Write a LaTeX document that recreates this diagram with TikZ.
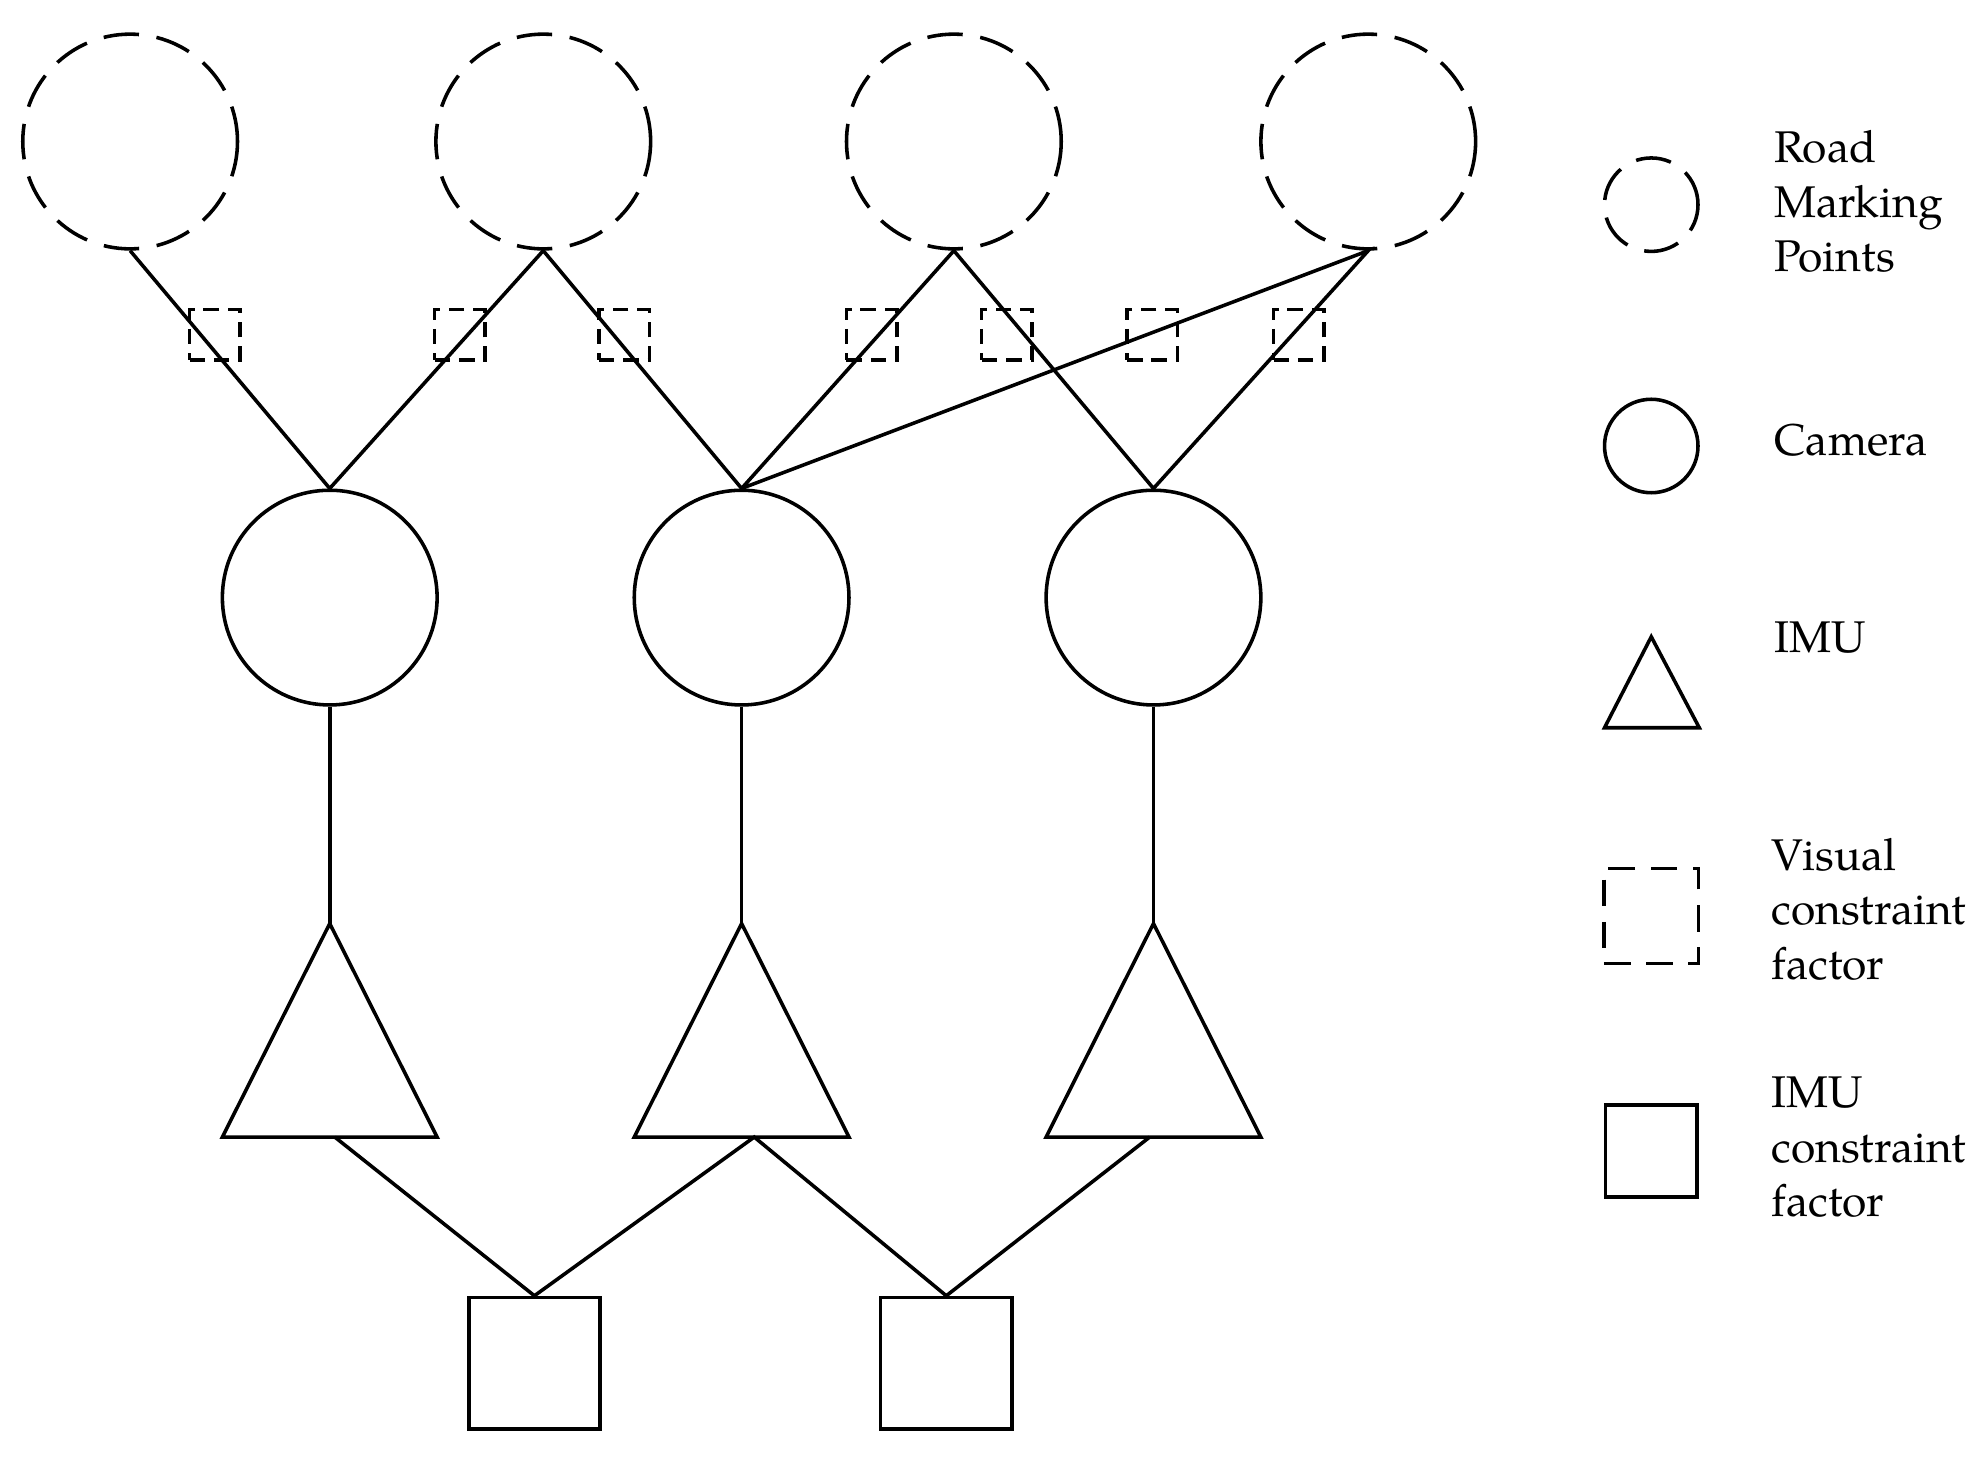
\documentclass[tikz,border=0pt]{standalone}
\usepackage{fontspec}
\setmainfont{TeX Gyre Pagella}
\begin{document}
\begin{tikzpicture}[x=0.02cm,y=-0.02cm,line width=1.6pt,
  dsh/.style={dash pattern=on 16pt off 8pt},
  road/.style={draw,circle,dsh,minimum size=3.4cm,inner sep=0},
  cam/.style={draw,circle,minimum size=3.4cm,inner sep=0},
  vf/.style={draw,dash pattern=on 7pt off 4pt,minimum size=0.8cm,inner sep=0},
  imf/.style={draw,minimum size=2.08cm,inner sep=0},
  lbl/.style={anchor=north west,align=left,font=\fontsize{20}{24.5}\selectfont,inner sep=0}]
\useasboundingbox (0,0) rectangle (1568,1154);
\foreach \i/\x in {1/103,2/430,3/755,4/1083}{\node[road] (r\i) at (\x,112) {};}
\foreach \i/\x in {1/261,2/587,3/913}{
  \node[cam] (c\i) at (\x,473) {};
  \coordinate (ta\i) at (\x,731);
  \draw (\x,731) -- (\x-85,900) -- (\x+85,900) -- cycle;
  \draw (c\i.south) -- (ta\i);}
\coordinate (b1) at (265,900); \coordinate (b2) at (597,900); \coordinate (b3) at (910,900);
\node[imf] (f1) at (423,1079) {};
\node[imf] (f2) at (749,1079) {};
\draw (b1) -- (f1.north) -- (b2) -- (f2.north) -- (b3);
\draw (r1.south) -- (c1.north) -- (r2.south) -- (c2.north) -- (r3.south) -- (c3.north) -- (r4.south) -- (c2.north);
\foreach \i/\x in {1/170,2/364,3/494,4/690,5/797,6/912,7/1028}{\node[vf] (v\i) at (\x,265) {};}
% legend
\node[road,minimum size=1.48cm] (lr) at (1307,162) {};
\node[cam,minimum size=1.48cm] (lc) at (1307,353) {};
\draw (1307,504) -- (1270,576) -- (1345,576) -- cycle;
\node[vf,minimum size=1.5cm,dash pattern=on 12pt off 7pt] (lv) at (1307,725) {};
\node[imf,minimum size=1.45cm] (li) at (1307,911) {};
\node[lbl] (t1) at (1403,102) {Road\\Marking\\Points};
\node[lbl] (t2) at (1403,334) {Camera};
\node[lbl] (t3) at (1403,491) {IMU};
\node[lbl] (t4) at (1401,662) {Visual\\constraint\\factor};
\node[lbl] (t5) at (1401,851) {IMU\\constraint\\factor};
\end{tikzpicture}
\end{document}
